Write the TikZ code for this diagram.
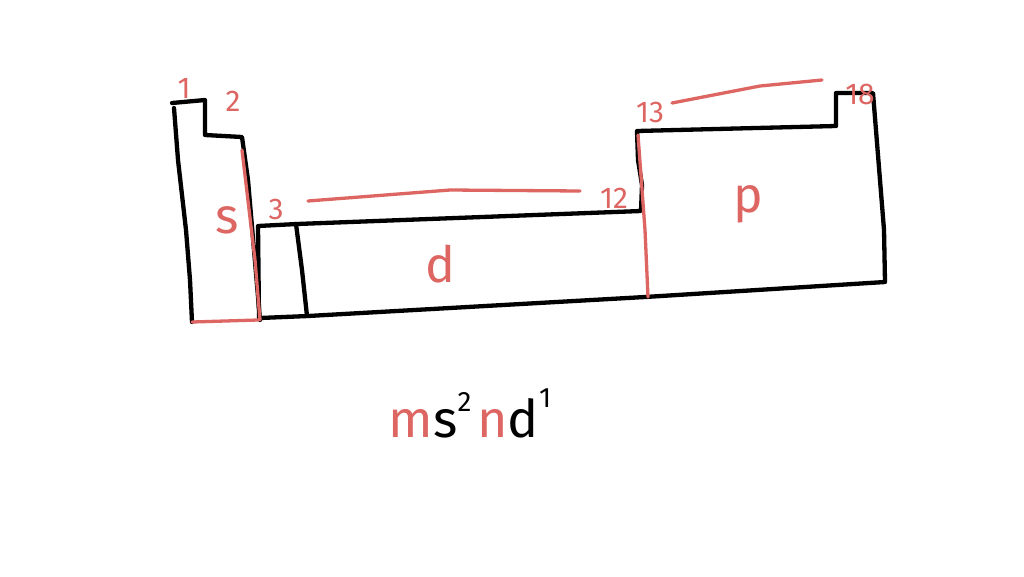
\documentclass[tikz,border=0pt]{standalone}
\usepackage{fontspec}
\setmainfont{Fira Sans}
\definecolor{pen}{HTML}{DD6663}
\begin{document}
\begin{tikzpicture}[x=1pt,y=-1pt,
  ink/.style={line width=4.3pt,line join=round,line cap=round,black},
  redink/.style={line width=3.3pt,line cap=round,pen},
  lbl/.style={text=pen,font=\fontsize{30}{32}\selectfont,inner sep=0pt},
  big/.style={text=pen,font=\fontsize{50}{52}\selectfont,inner sep=0pt}]
\useasboundingbox[fill=white] (0,0) rectangle (1024,576);
% black outline
\draw[ink] (172,103) -- (205,100) -- (205,135) -- (242,137) -- (248,180) -- (260,320);
\draw[ink] (174,108) -- (178,160) -- (186,230) -- (190,280) -- (192,322);
\draw[ink] (260,318) -- (308,316) -- (645,297) -- (885,282) -- (884,230) -- (873,93) -- (836,93) -- (836,126) -- (637,131) -- (638,160) -- (642,185) -- (641,211) -- (297,224) -- (258,226) -- (259,318);
\draw[ink] (296,224) -- (302,270) -- (307,316);
% red lines
\draw[redink] (242,150) -- (255,260) -- (260,320);
\draw[redink] (192,322) -- (258,320);
\draw[redink] (638,135) -- (645,230) -- (648,297);
\draw[redink] (308,201) -- (450,190) -- (580,191);
\draw[redink] (672,103) -- (760,86) -- (822,80);
% labels
\node[lbl] (g1) at (184,88) {1};
\node[lbl] (g2) at (233,101) {2};
\node[lbl] (g3) at (276,209) {3};
\node[lbl] (g12) at (614,198) {12};
\node[lbl] (g13) at (650,112) {13};
\node[lbl] (g18) at (860,94) {18};
\node[big] (s) at (227,220) {s};
\node[big] (d) at (440,264) {d};
\node[big] (p) at (748,204) {p};
\node[inner sep=0pt,font=\fontsize{52}{54}\selectfont,anchor=base] (f) at (470,437)
  {\textcolor{pen}{m}s\raisebox{26pt}{\fontsize{28}{28}\selectfont 2}\hspace{6pt}\textcolor{pen}{n}d\raisebox{30pt}{\fontsize{28}{28}\selectfont 1}};
\end{tikzpicture}
\end{document}
